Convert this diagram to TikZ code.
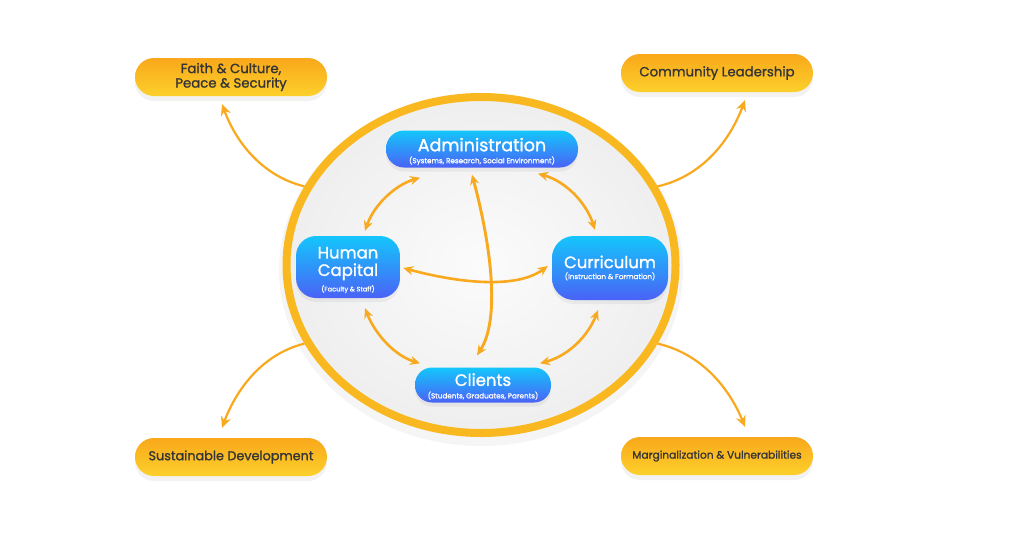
\documentclass[tikz,border=0pt]{standalone}
\usepackage{fontspec}
\setmainfont{Poppins}[FakeBold=1.3]
\usetikzlibrary{arrows.meta,shadows,calc,shapes.geometric}
\definecolor{blueTop}{HTML}{14C6FB}
\definecolor{blueBot}{HTML}{4A62F6}
\definecolor{ylTop}{HTML}{F9A81B}
\definecolor{ylBot}{HTML}{FCD02B}
\definecolor{ringC}{HTML}{F9B81F}
\definecolor{arrC}{HTML}{F8A91E}
\definecolor{txtC}{HTML}{353535}
\newcommand{\ttlf}{\fontsize{16.5}{17}\selectfont}
\newcommand{\subf}{\fontsize{7.2}{8}\selectfont}
\tikzset{
  bluebox/.style={draw=none, top color=blueTop, bottom color=blueBot, inner sep=0pt,
    drop shadow={opacity=0.10, shadow xshift=0pt, shadow yshift=-4pt}},
  bluetxt/.style={text=white, align=center, inner sep=0pt},
  ylbox/.style={draw=none, top color=ylTop, bottom color=ylBot, text=txtC, align=center, inner sep=0pt,
    minimum width=192pt, minimum height=38pt, rounded corners=19pt, font=\fontsize{13.3}{14.5}\selectfont,
    drop shadow={opacity=0.10, shadow xshift=0pt, shadow yshift=-5pt}},
  inarr/.style={draw=arrC, line width=2.6pt, {Stealth[length=10pt,width=9pt]}-{Stealth[length=10pt,width=9pt]}},
  outarr/.style={draw=arrC, line width=2.2pt, -{Stealth[length=11pt,width=10pt]}},
}
\begin{document}
\begin{tikzpicture}[x=1pt,y=-1pt]
\fill[white] (0,0) rectangle (1024,550);
\useasboundingbox (0,0) rectangle (1024,550);
% ring
\fill[black,opacity=0.04] (481,270) ellipse [x radius=202, y radius=176];
\node[ellipse, draw=ringC, line width=8pt, inner color=gray!3, outer color=gray!13,
      minimum width=389pt, minimum height=336pt, inner sep=0pt] (ring) at (481,265) {};
% boxes
\node[bluebox, minimum width=192pt, minimum height=37pt, rounded corners=18pt] (adm) at (482,149) {};
\node[bluetxt] (admt) at ($(adm.center)+(0,2.5)$)
  {{\fontsize{17.5}{17}\selectfont Administration}\\[0pt]{\subf (Systems, Research, Social Environment)}};
\node[bluebox, minimum width=104pt, minimum height=62pt, rounded corners=20pt] (hc) at (348,267) {};
\node[bluetxt, font=\fontsize{16.5}{17.5}\selectfont] (hct) at ($(hc.center)+(0,3)$)
  {Human\\Capital\\[-2pt]{\fontsize{6.6}{7}\selectfont (Faculty \& Staff)}};
\node[bluebox, minimum width=116pt, minimum height=64pt, rounded corners=22pt] (cur) at (610,268) {};
\node[bluetxt] (curt) at ($(cur.center)+(0,0)$)
  {{\ttlf Curriculum}\\[-1pt]{\subf (Instruction \& Formation)}};
\node[bluebox, minimum width=136pt, minimum height=35pt, rounded corners=17pt] (cli) at (483,385) {};
\node[bluetxt] (clit) at ($(cli.center)+(0,1.5)$)
  {{\ttlf Clients}\\[0.5pt]{\subf (Students, Graduates, Parents)}};
\node[ylbox] (fai) at (231,77) {Faith \& Culture,\\Peace \& Security};
\node[ylbox] (com) at (717,73) {Community Leadership};
\node[ylbox, font=\fontsize{12.8}{14}\selectfont] (sus) at (231,457) {Sustainable Development};
\node[ylbox, font=\fontsize{10.6}{12}\selectfont] (mar) at (717,456) {Marginalization \& Vulnerabilities};
% outer arrows
\draw[outarr] (ring.156) .. controls (262,176) and (236,142) .. ($(fai.south)+(-9,8)$);
\draw[outarr] (ring.24) .. controls (703,176) and (730,140) .. ($(com.south)+(28,8)$);
\draw[outarr] (ring.204) .. controls (262,354) and (236,390) .. ($(sus.north)+(-9,-10)$);
\draw[outarr] (ring.336) .. controls (703,354) and (730,390) .. ($(mar.north)+(28,-10)$);
% inner arrows
\draw[inarr] ($(adm.south)+(-62,10)$) .. controls (395,185) and (374,205) .. ($(hc.north)+(17,-5)$);
\draw[inarr] ($(adm.south)+(56,6)$) .. controls (565,181) and (586,202) .. ($(cur.north)+(-15,-6)$);
\draw[inarr] ($(hc.south)+(17,10)$) .. controls (376,336) and (396,356) .. ($(cli.north)+(-63,-4)$);
\draw[inarr] ($(cur.south)+(-12,10)$) .. controls (588,336) and (568,356) .. ($(cli.north)+(57,-4)$);
\draw[inarr] ($(hc.east)+(3,1)$) .. controls (455,282) and (515,290) .. ($(cur.west)+(-4,-2)$);
\draw[inarr, line width=2.9pt] ($(adm.south)+(-10,7)$) .. controls (487,230) and (503,315) .. ($(cli.north)+(-6,-12)$);
\end{tikzpicture}
\end{document}
